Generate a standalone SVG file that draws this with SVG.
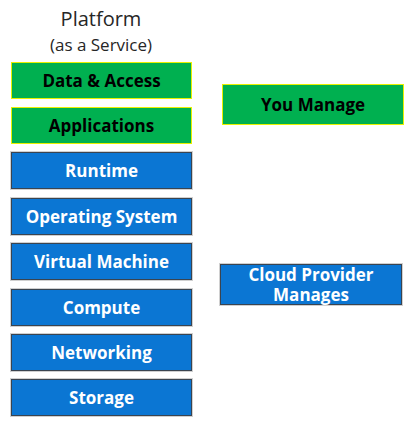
<svg xmlns="http://www.w3.org/2000/svg" width="417" height="433" viewBox="0 0 417 433">
<style>
.g{fill:#00B050;stroke:#E8F000;stroke-width:1}
.b{fill:#0B76D3;stroke:#3A4450;stroke-width:1}
.sh{fill:none;stroke:#D0D0D0;stroke-width:1}
.t{font-family:"Open Sans","Noto Sans",sans-serif;font-weight:bold;font-size:17px;text-anchor:middle}
.tk{fill:#000}
.tw{fill:#fff}
.h{font-family:"Open Sans","Noto Sans",sans-serif;fill:#262626;text-anchor:middle}
</style>
<rect width="417" height="433" fill="#fff"/>
<g id="title">
<text class="h" x="101" y="26" font-size="20">Platform</text>
<text class="h" x="101" y="51" font-size="17">(as a Service)</text>
</g>
<g id="data-access"><rect class="g" x="11.5" y="62.5" width="180" height="36"/><text class="t tk" x="101.5" y="86.5">Data &amp; Access</text></g>
<g id="applications"><rect class="g" x="11.5" y="107.5" width="180" height="36"/><text class="t tk" x="101.5" y="131.5">Applications</text></g>
<g id="runtime"><rect class="sh" x="10.5" y="151.5" width="182" height="38"/><rect class="b" x="11.5" y="152.5" width="180" height="36"/><text class="t tw" x="101.5" y="176.5">Runtime</text></g>
<g id="os"><rect class="sh" x="10.5" y="197.5" width="182" height="38"/><rect class="b" x="11.5" y="198.5" width="180" height="36"/><text class="t tw" x="101.5" y="222.5">Operating System</text></g>
<g id="vm"><rect class="sh" x="10.5" y="242.5" width="182" height="38"/><rect class="b" x="11.5" y="243.5" width="180" height="36"/><text class="t tw" x="101.5" y="267.5">Virtual Machine</text></g>
<g id="compute"><rect class="sh" x="10.5" y="288.5" width="182" height="38"/><rect class="b" x="11.5" y="289.5" width="180" height="36"/><text class="t tw" x="101.5" y="313.5">Compute</text></g>
<g id="networking"><rect class="sh" x="10.5" y="333.5" width="182" height="38"/><rect class="b" x="11.5" y="334.5" width="180" height="36"/><text class="t tw" x="101.5" y="358.5">Networking</text></g>
<g id="storage"><rect class="sh" x="10.5" y="378.5" width="182" height="38"/><rect class="b" x="11.5" y="379.5" width="180" height="36"/><text class="t tw" x="101.5" y="403.5">Storage</text></g>
<g id="you-manage"><rect class="g" x="222.5" y="84.5" width="181" height="40"/><text class="t tk" x="313" y="110.5">You Manage</text></g>
<g id="cloud-provider"><rect class="sh" x="219.5" y="263.5" width="183" height="42"/><rect class="b" x="220.5" y="264.5" width="181" height="40"/><text class="t tw" x="311" y="280.5">Cloud Provider</text><text class="t tw" x="311" y="300.5">Manages</text></g>
<g id="connectors"></g>
</svg>
